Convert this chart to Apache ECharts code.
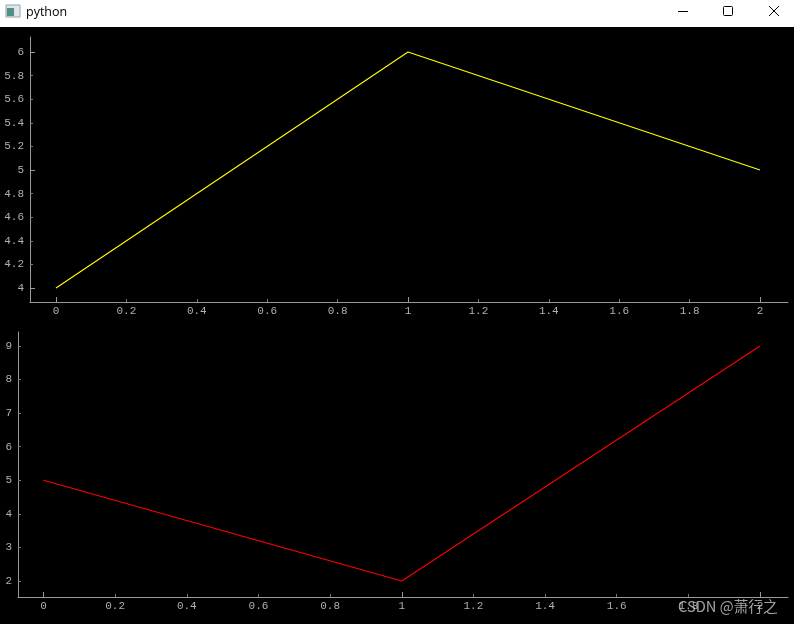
<!DOCTYPE html>
<html><head><meta charset="utf-8">
<style>html,body{margin:0;padding:0;background:#000}#c{width:794px;height:624px}</style>
<script src="https://cdn.jsdelivr.net/npm/echarts@6/dist/echarts.min.js"></script></head>
<body><div id="c"></div>
<script>
const categories = [0, 1, 2];
const topValues = [4, 6, 5];
const bottomValues = [5, 2, 9];
const xTicks = [0,0.2,0.4,0.6,0.8,1,1.2,1.4,1.6,1.8,2];
const xMajor = [0,1,2];
const topYTicks = [4,4.2,4.4,4.6,4.8,5,5.2,5.4,5.6,5.8,6];
const topYMajor = [4,5,6];
const bottomYTicks = [2,3,4,5,6,7,8,9];
const grey='#9a9a9a', txt='#b0b0b0', font='"Liberation Mono", monospace';

function valAxis(idx, pos, min, max, ticks, len, showLabel, showLine, color){
  return {type:'value', gridIndex:idx, position:pos, min, max, scale:true, splitLine:{show:false},
    axisLine:{show:showLine, onZero:false, lineStyle:{color:grey,width:1}},
    axisTick:{show:true, inside:true, length:len, customValues:ticks, lineStyle:{color:color||'#777',width:1}},
    axisLabel:{show:showLabel, customValues:ticks, color:txt, fontFamily:font, fontSize:11, margin:pos==='bottom'?4:6, showMinLabel:true, showMaxLabel:true, hideOverlap:false,
      formatter:v=>String(+(+v).toFixed(1))}};
}
const xT=[-26/352, 2+28/352], xB=[-25.5/358.25, 2+28/358.25];
const yT=[4-14/118, 6+15/118], yB=[2-16/33.57, 9+14/33.57];
const option={
  backgroundColor:'#000', animation:false,
  grid:[{left:30,top:37,width:758,height:265},{left:18,top:332,width:770,height:265}],
  xAxis:[
    valAxis(0,'bottom',xT[0],xT[1],xTicks,3,true,true),
    valAxis(0,'bottom',xT[0],xT[1],xMajor,5,false,false,grey),
    valAxis(1,'bottom',xB[0],xB[1],xTicks,3,true,true),
    valAxis(1,'bottom',xB[0],xB[1],xMajor,5,false,false,grey)
  ],
  yAxis:[
    valAxis(0,'left',yT[0],yT[1],topYTicks,3,true,true),
    valAxis(0,'left',yT[0],yT[1],topYMajor,5,false,false,grey),
    valAxis(1,'left',yB[0],yB[1],bottomYTicks,3,true,true)
  ],
  series:[
    {type:'line',xAxisIndex:0,yAxisIndex:0,showSymbol:false,lineStyle:{color:'#ffff00',width:1.1},data:categories.map((c,i)=>[c,topValues[i]])},
    {type:'line',xAxisIndex:2,yAxisIndex:2,showSymbol:false,lineStyle:{color:'#ff0000',width:1.1},data:categories.map((c,i)=>[c,bottomValues[i]])}
  ],
  graphic:[
    {type:'rect',shape:{x:0,y:0,width:794,height:27},style:{fill:'#fff'},silent:true},
    {type:'rect',shape:{x:6,y:5,width:14,height:12},style:{fill:'#dfe6ea',stroke:'#9aa0a6',lineWidth:1}},
    {type:'rect',shape:{x:7,y:8,width:7,height:8},style:{fill:'#4f8f86'}},
    {type:'text',style:{x:26,y:12,text:'python',fill:'#000',font:'12.5px "Open Sans", "Noto Sans", sans-serif',textVerticalAlign:'middle'}},
    {type:'line',shape:{x1:678,y1:11.5,x2:688,y2:11.5},style:{stroke:'#000',lineWidth:1}},
    {type:'rect',shape:{x:723.5,y:6.5,width:9,height:9,r:1},style:{fill:'none',stroke:'#000',lineWidth:1}},
    {type:'line',shape:{x1:769,y1:6,x2:779,y2:16},style:{stroke:'#000',lineWidth:1}},
    {type:'line',shape:{x1:779,y1:6,x2:769,y2:16},style:{stroke:'#000',lineWidth:1}},
    {type:'text',z:100,style:{x:678,y:606,text:'CSDN @萧行之',fill:'rgba(190,190,190,0.85)',font:'14.7px "Noto Sans CJK SC", sans-serif',textVerticalAlign:'middle'}}
  ]
};
echarts.init(document.getElementById('c'),null,{renderer:'canvas'}).setOption(option);
</script></body></html>
